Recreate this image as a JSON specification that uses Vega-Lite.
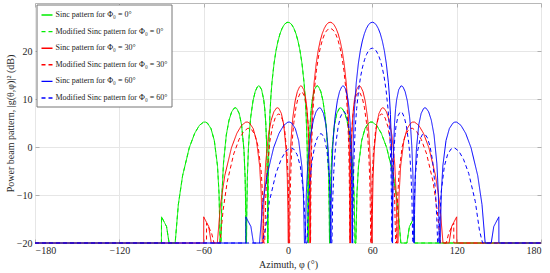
{
"$schema":"https://vega.github.io/schema/vega-lite/v6.json",
"width":506,"height":240,"autosize":"none",
"padding":{"left":35,"top":3,"right":9,"bottom":30},
"config":{"view":{"stroke":"#b8b8b8","strokeWidth":1},"font":"Liberation Serif"},
"datasets":{"d":[
{"s":"a","x":-180,"y":-20},{"s":"a","x":-90.05,"y":-20},{"s":"a","x":-90,"y":-14.55},{"s":"a","x":-86.39,"y":-16.58},{"s":"a","x":-84.59,"y":-20},{"s":"a","x":-80.28,"y":-20},{"s":"a","x":-78.02,"y":-11.99},{"s":"a","x":-74.98,"y":-5.96},{"s":"a","x":-70.23,"y":-0.15},{"s":"a","x":-66.39,"y":2.85},{"s":"a","x":-63.07,"y":4.5},{"s":"a","x":-60.09,"y":5.18},{"s":"a","x":-58.69,"y":5.19},{"s":"a","x":-57.35,"y":4.99},{"s":"a","x":-54.81,"y":3.85},{"s":"a","x":-52.42,"y":1.34},{"s":"a","x":-50.15,"y":-3.97},{"s":"a","x":-49.05,"y":-9.74},{"s":"a","x":-48.3,"y":-20},{"s":"a","x":-47.67,"y":-20},{"s":"a","x":-47.56,"y":-17.47},{"s":"a","x":-46.93,"y":-9.45},{"s":"a","x":-45.9,"y":-3.39},{"s":"a","x":-43.9,"y":2.5},{"s":"a","x":-41.96,"y":5.59},{"s":"a","x":-40.08,"y":7.32},{"s":"a","x":-38.25,"y":8.1},{"s":"a","x":-37.35,"y":8.17},{"s":"a","x":-36.47,"y":8.02},{"s":"a","x":-34.72,"y":6.98},{"s":"a","x":-33.01,"y":4.59},{"s":"a","x":-31.34,"y":-0.59},{"s":"a","x":-30.51,"y":-6.29},{"s":"a","x":-30.02,"y":-14.09},{"s":"a","x":-29.85,"y":-20},{"s":"a","x":-29.53,"y":-20},{"s":"a","x":-29.36,"y":-13.92},{"s":"a","x":-28.88,"y":-5.86},{"s":"a","x":-28.07,"y":0.28},{"s":"a","x":-27.27,"y":3.85},{"s":"a","x":-26.47,"y":6.34},{"s":"a","x":-24.9,"y":9.61},{"s":"a","x":-23.34,"y":11.54},{"s":"a","x":-21.81,"y":12.53},{"s":"a","x":-21.04,"y":12.72},{"s":"a","x":-20.29,"y":12.7},{"s":"a","x":-18.78,"y":11.94},{"s":"a","x":-17.29,"y":9.86},{"s":"a","x":-16.55,"y":7.98},{"s":"a","x":-15.81,"y":5.03},{"s":"a","x":-15.07,"y":-0.48},{"s":"a","x":-14.63,"y":-8.16},{"s":"a","x":-14.41,"y":-20},{"s":"a","x":-14.27,"y":-20},{"s":"a","x":-14.05,"y":-7.81},{"s":"a","x":-13.61,"y":0.39},{"s":"a","x":-12.88,"y":6.77},{"s":"a","x":-12.15,"y":10.61},{"s":"a","x":-11.43,"y":13.38},{"s":"a","x":-9.98,"y":17.31},{"s":"a","x":-8.55,"y":20.06},{"s":"a","x":-7.11,"y":22.08},{"s":"a","x":-5.69,"y":23.58},{"s":"a","x":-4.26,"y":24.67},{"s":"a","x":-2.84,"y":25.42},{"s":"a","x":-1.42,"y":25.86},
{"s":"a","x":0,"y":26},
{"s":"a","x":1.42,"y":25.86},{"s":"a","x":2.84,"y":25.42},{"s":"a","x":4.26,"y":24.67},{"s":"a","x":5.69,"y":23.58},{"s":"a","x":7.11,"y":22.08},{"s":"a","x":8.55,"y":20.06},{"s":"a","x":9.98,"y":17.31},{"s":"a","x":11.43,"y":13.38},{"s":"a","x":12.15,"y":10.61},{"s":"a","x":12.88,"y":6.77},{"s":"a","x":13.61,"y":0.39},{"s":"a","x":14.05,"y":-7.81},{"s":"a","x":14.27,"y":-20},{"s":"a","x":14.41,"y":-20},{"s":"a","x":14.63,"y":-8.16},{"s":"a","x":15.07,"y":-0.48},{"s":"a","x":15.81,"y":5.03},{"s":"a","x":16.55,"y":7.98},{"s":"a","x":17.29,"y":9.86},{"s":"a","x":18.78,"y":11.94},{"s":"a","x":20.29,"y":12.7},{"s":"a","x":21.04,"y":12.72},{"s":"a","x":21.81,"y":12.53},{"s":"a","x":23.34,"y":11.54},{"s":"a","x":24.9,"y":9.61},{"s":"a","x":26.47,"y":6.34},{"s":"a","x":27.27,"y":3.85},{"s":"a","x":28.07,"y":0.28},{"s":"a","x":28.88,"y":-5.86},{"s":"a","x":29.36,"y":-13.92},{"s":"a","x":29.53,"y":-20},{"s":"a","x":29.85,"y":-20},{"s":"a","x":30.02,"y":-14.09},{"s":"a","x":30.51,"y":-6.29},{"s":"a","x":31.34,"y":-0.59},{"s":"a","x":33.01,"y":4.59},{"s":"a","x":34.72,"y":6.98},{"s":"a","x":36.47,"y":8.02},{"s":"a","x":37.35,"y":8.17},{"s":"a","x":38.25,"y":8.1},{"s":"a","x":40.08,"y":7.32},{"s":"a","x":41.96,"y":5.59},{"s":"a","x":43.9,"y":2.5},{"s":"a","x":45.9,"y":-3.39},{"s":"a","x":46.93,"y":-9.45},{"s":"a","x":47.56,"y":-17.47},{"s":"a","x":47.67,"y":-20},{"s":"a","x":48.3,"y":-20},{"s":"a","x":49.05,"y":-9.74},{"s":"a","x":50.15,"y":-3.97},{"s":"a","x":52.42,"y":1.34},{"s":"a","x":54.81,"y":3.85},{"s":"a","x":57.35,"y":4.99},{"s":"a","x":58.69,"y":5.19},{"s":"a","x":60.09,"y":5.18},{"s":"a","x":63.07,"y":4.5},{"s":"a","x":66.39,"y":2.85},{"s":"a","x":70.23,"y":-0.15},{"s":"a","x":74.98,"y":-5.96},{"s":"a","x":78.02,"y":-11.99},{"s":"a","x":80.28,"y":-20},{"s":"a","x":84.59,"y":-20},{"s":"a","x":86.39,"y":-16.58},{"s":"a","x":90,"y":-14.55},{"s":"a","x":90.05,"y":-20},{"s":"a","x":180,"y":-20},
{"s":"b","x":-180,"y":-20},{"s":"b","x":-90.05,"y":-20},{"s":"b","x":-90,"y":-14.55},{"s":"b","x":-86.39,"y":-16.58},{"s":"b","x":-84.59,"y":-20},{"s":"b","x":-80.28,"y":-20},{"s":"b","x":-78.02,"y":-11.99},{"s":"b","x":-74.98,"y":-5.96},{"s":"b","x":-70.23,"y":-0.15},{"s":"b","x":-66.39,"y":2.85},{"s":"b","x":-63.07,"y":4.5},{"s":"b","x":-60.09,"y":5.18},{"s":"b","x":-58.69,"y":5.19},{"s":"b","x":-57.35,"y":4.99},{"s":"b","x":-54.81,"y":3.85},{"s":"b","x":-52.42,"y":1.34},{"s":"b","x":-50.15,"y":-3.97},{"s":"b","x":-49.05,"y":-9.74},{"s":"b","x":-48.3,"y":-20},{"s":"b","x":-47.67,"y":-20},{"s":"b","x":-47.56,"y":-17.47},{"s":"b","x":-46.93,"y":-9.45},{"s":"b","x":-45.9,"y":-3.39},{"s":"b","x":-43.9,"y":2.5},{"s":"b","x":-41.96,"y":5.59},{"s":"b","x":-40.08,"y":7.32},{"s":"b","x":-38.25,"y":8.1},{"s":"b","x":-37.35,"y":8.17},{"s":"b","x":-36.47,"y":8.02},{"s":"b","x":-34.72,"y":6.98},{"s":"b","x":-33.01,"y":4.59},{"s":"b","x":-31.34,"y":-0.59},{"s":"b","x":-30.51,"y":-6.29},{"s":"b","x":-30.02,"y":-14.09},{"s":"b","x":-29.85,"y":-20},{"s":"b","x":-29.53,"y":-20},{"s":"b","x":-29.36,"y":-13.92},{"s":"b","x":-28.88,"y":-5.86},{"s":"b","x":-28.07,"y":0.28},{"s":"b","x":-27.27,"y":3.85},{"s":"b","x":-26.47,"y":6.34},{"s":"b","x":-24.9,"y":9.61},{"s":"b","x":-23.34,"y":11.54},{"s":"b","x":-21.81,"y":12.53},{"s":"b","x":-21.04,"y":12.72},{"s":"b","x":-20.29,"y":12.7},{"s":"b","x":-18.78,"y":11.94},{"s":"b","x":-17.29,"y":9.86},{"s":"b","x":-16.55,"y":7.98},{"s":"b","x":-15.81,"y":5.03},{"s":"b","x":-15.07,"y":-0.48},{"s":"b","x":-14.63,"y":-8.16},{"s":"b","x":-14.41,"y":-20},{"s":"b","x":-14.27,"y":-20},{"s":"b","x":-14.05,"y":-7.81},{"s":"b","x":-13.61,"y":0.39},{"s":"b","x":-12.88,"y":6.77},{"s":"b","x":-12.15,"y":10.61},{"s":"b","x":-11.43,"y":13.38},{"s":"b","x":-9.98,"y":17.31},{"s":"b","x":-8.55,"y":20.06},{"s":"b","x":-7.11,"y":22.08},{"s":"b","x":-5.69,"y":23.58},{"s":"b","x":-4.26,"y":24.67},{"s":"b","x":-2.84,"y":25.42},{"s":"b","x":-1.42,"y":25.86},
{"s":"b","x":0,"y":26},
{"s":"b","x":1.42,"y":25.86},{"s":"b","x":2.84,"y":25.42},{"s":"b","x":4.26,"y":24.67},{"s":"b","x":5.69,"y":23.58},{"s":"b","x":7.11,"y":22.08},{"s":"b","x":8.55,"y":20.06},{"s":"b","x":9.98,"y":17.31},{"s":"b","x":11.43,"y":13.38},{"s":"b","x":12.15,"y":10.61},{"s":"b","x":12.88,"y":6.77},{"s":"b","x":13.61,"y":0.39},{"s":"b","x":14.05,"y":-7.81},{"s":"b","x":14.27,"y":-20},{"s":"b","x":14.41,"y":-20},{"s":"b","x":14.63,"y":-8.16},{"s":"b","x":15.07,"y":-0.48},{"s":"b","x":15.81,"y":5.03},{"s":"b","x":16.55,"y":7.98},{"s":"b","x":17.29,"y":9.86},{"s":"b","x":18.78,"y":11.94},{"s":"b","x":20.29,"y":12.7},{"s":"b","x":21.04,"y":12.72},{"s":"b","x":21.81,"y":12.53},{"s":"b","x":23.34,"y":11.54},{"s":"b","x":24.9,"y":9.61},{"s":"b","x":26.47,"y":6.34},{"s":"b","x":27.27,"y":3.85},{"s":"b","x":28.07,"y":0.28},{"s":"b","x":28.88,"y":-5.86},{"s":"b","x":29.36,"y":-13.92},{"s":"b","x":29.53,"y":-20},{"s":"b","x":29.85,"y":-20},{"s":"b","x":30.02,"y":-14.09},{"s":"b","x":30.51,"y":-6.29},{"s":"b","x":31.34,"y":-0.59},{"s":"b","x":33.01,"y":4.59},{"s":"b","x":34.72,"y":6.98},{"s":"b","x":36.47,"y":8.02},{"s":"b","x":37.35,"y":8.17},{"s":"b","x":38.25,"y":8.1},{"s":"b","x":40.08,"y":7.32},{"s":"b","x":41.96,"y":5.59},{"s":"b","x":43.9,"y":2.5},{"s":"b","x":45.9,"y":-3.39},{"s":"b","x":46.93,"y":-9.45},{"s":"b","x":47.56,"y":-17.47},{"s":"b","x":47.67,"y":-20},{"s":"b","x":48.3,"y":-20},{"s":"b","x":49.05,"y":-9.74},{"s":"b","x":50.15,"y":-3.97},{"s":"b","x":52.42,"y":1.34},{"s":"b","x":54.81,"y":3.85},{"s":"b","x":57.35,"y":4.99},{"s":"b","x":58.69,"y":5.19},{"s":"b","x":60.09,"y":5.18},{"s":"b","x":63.07,"y":4.5},{"s":"b","x":66.39,"y":2.85},{"s":"b","x":70.23,"y":-0.15},{"s":"b","x":74.98,"y":-5.96},{"s":"b","x":78.02,"y":-11.99},{"s":"b","x":80.28,"y":-20},{"s":"b","x":84.59,"y":-20},{"s":"b","x":86.39,"y":-16.58},{"s":"b","x":90,"y":-14.55},{"s":"b","x":90.05,"y":-20},{"s":"b","x":180,"y":-20},
{"s":"c","x":-180,"y":-20},{"s":"c","x":-60.05,"y":-20},{"s":"c","x":-60,"y":-14.55},{"s":"c","x":-56.39,"y":-16.58},{"s":"c","x":-54.59,"y":-20},{"s":"c","x":-50.28,"y":-20},{"s":"c","x":-48.02,"y":-11.99},{"s":"c","x":-44.98,"y":-5.96},{"s":"c","x":-40.23,"y":-0.15},{"s":"c","x":-36.39,"y":2.85},{"s":"c","x":-33.07,"y":4.5},{"s":"c","x":-30.09,"y":5.18},{"s":"c","x":-28.69,"y":5.19},{"s":"c","x":-27.35,"y":4.99},{"s":"c","x":-24.81,"y":3.85},{"s":"c","x":-22.42,"y":1.34},{"s":"c","x":-20.15,"y":-3.97},{"s":"c","x":-19.05,"y":-9.74},{"s":"c","x":-18.3,"y":-20},{"s":"c","x":-17.67,"y":-20},{"s":"c","x":-17.56,"y":-17.47},{"s":"c","x":-16.93,"y":-9.45},{"s":"c","x":-15.9,"y":-3.39},{"s":"c","x":-13.9,"y":2.5},{"s":"c","x":-11.96,"y":5.59},{"s":"c","x":-10.08,"y":7.32},{"s":"c","x":-8.25,"y":8.1},{"s":"c","x":-7.35,"y":8.17},{"s":"c","x":-6.47,"y":8.02},{"s":"c","x":-4.72,"y":6.98},{"s":"c","x":-3.01,"y":4.59},{"s":"c","x":-1.34,"y":-0.59},{"s":"c","x":-0.51,"y":-6.29},{"s":"c","x":-0.02,"y":-14.09},{"s":"c","x":0.15,"y":-20},{"s":"c","x":0.47,"y":-20},{"s":"c","x":0.64,"y":-13.92},{"s":"c","x":1.12,"y":-5.86},{"s":"c","x":1.93,"y":0.28},{"s":"c","x":2.73,"y":3.85},{"s":"c","x":3.53,"y":6.34},{"s":"c","x":5.1,"y":9.61},{"s":"c","x":6.66,"y":11.54},{"s":"c","x":8.19,"y":12.53},{"s":"c","x":8.96,"y":12.72},{"s":"c","x":9.71,"y":12.7},{"s":"c","x":11.22,"y":11.94},{"s":"c","x":12.71,"y":9.86},{"s":"c","x":13.45,"y":7.98},{"s":"c","x":14.19,"y":5.03},{"s":"c","x":14.93,"y":-0.48},{"s":"c","x":15.37,"y":-8.16},{"s":"c","x":15.59,"y":-20},{"s":"c","x":15.73,"y":-20},{"s":"c","x":15.95,"y":-7.81},{"s":"c","x":16.39,"y":0.39},{"s":"c","x":17.12,"y":6.77},{"s":"c","x":17.85,"y":10.61},{"s":"c","x":18.57,"y":13.38},{"s":"c","x":20.02,"y":17.31},{"s":"c","x":21.45,"y":20.06},{"s":"c","x":22.89,"y":22.08},{"s":"c","x":24.31,"y":23.58},{"s":"c","x":25.74,"y":24.67},{"s":"c","x":27.16,"y":25.42},{"s":"c","x":28.58,"y":25.86},
{"s":"c","x":30,"y":26},
{"s":"c","x":31.42,"y":25.86},{"s":"c","x":32.84,"y":25.42},{"s":"c","x":34.26,"y":24.67},{"s":"c","x":35.69,"y":23.58},{"s":"c","x":37.11,"y":22.08},{"s":"c","x":38.55,"y":20.06},{"s":"c","x":39.98,"y":17.31},{"s":"c","x":41.43,"y":13.38},{"s":"c","x":42.15,"y":10.61},{"s":"c","x":42.88,"y":6.77},{"s":"c","x":43.61,"y":0.39},{"s":"c","x":44.05,"y":-7.81},{"s":"c","x":44.27,"y":-20},{"s":"c","x":44.41,"y":-20},{"s":"c","x":44.63,"y":-8.16},{"s":"c","x":45.07,"y":-0.48},{"s":"c","x":45.81,"y":5.03},{"s":"c","x":46.55,"y":7.98},{"s":"c","x":47.29,"y":9.86},{"s":"c","x":48.78,"y":11.94},{"s":"c","x":50.29,"y":12.7},{"s":"c","x":51.04,"y":12.72},{"s":"c","x":51.81,"y":12.53},{"s":"c","x":53.34,"y":11.54},{"s":"c","x":54.9,"y":9.61},{"s":"c","x":56.47,"y":6.34},{"s":"c","x":57.27,"y":3.85},{"s":"c","x":58.07,"y":0.28},{"s":"c","x":58.88,"y":-5.86},{"s":"c","x":59.36,"y":-13.92},{"s":"c","x":59.53,"y":-20},{"s":"c","x":59.85,"y":-20},{"s":"c","x":60.02,"y":-14.09},{"s":"c","x":60.51,"y":-6.29},{"s":"c","x":61.34,"y":-0.59},{"s":"c","x":63.01,"y":4.59},{"s":"c","x":64.72,"y":6.98},{"s":"c","x":66.47,"y":8.02},{"s":"c","x":67.35,"y":8.17},{"s":"c","x":68.25,"y":8.1},{"s":"c","x":70.08,"y":7.32},{"s":"c","x":71.96,"y":5.59},{"s":"c","x":73.9,"y":2.5},{"s":"c","x":75.9,"y":-3.39},{"s":"c","x":76.93,"y":-9.45},{"s":"c","x":77.56,"y":-17.47},{"s":"c","x":77.67,"y":-20},{"s":"c","x":78.3,"y":-20},{"s":"c","x":79.05,"y":-9.74},{"s":"c","x":80.15,"y":-3.97},{"s":"c","x":82.42,"y":1.34},{"s":"c","x":84.81,"y":3.85},{"s":"c","x":87.35,"y":4.99},{"s":"c","x":88.69,"y":5.19},{"s":"c","x":90.09,"y":5.18},{"s":"c","x":93.07,"y":4.5},{"s":"c","x":96.39,"y":2.85},{"s":"c","x":100.23,"y":-0.15},{"s":"c","x":104.98,"y":-5.96},{"s":"c","x":108.02,"y":-11.99},{"s":"c","x":110.28,"y":-20},{"s":"c","x":114.59,"y":-20},{"s":"c","x":116.39,"y":-16.58},{"s":"c","x":120,"y":-14.55},{"s":"c","x":120.05,"y":-20},{"s":"c","x":180,"y":-20},
{"s":"d","x":-180,"y":-20},{"s":"d","x":-57.98,"y":-20},{"s":"d","x":-57.93,"y":-15.85},{"s":"d","x":-54.41,"y":-17.88},{"s":"d","x":-52.64,"y":-20},{"s":"d","x":-48.43,"y":-20},{"s":"d","x":-46.22,"y":-13.29},{"s":"d","x":-43.25,"y":-7.26},{"s":"d","x":-38.62,"y":-1.45},{"s":"d","x":-34.86,"y":1.55},{"s":"d","x":-31.62,"y":3.2},{"s":"d","x":-28.7,"y":3.88},{"s":"d","x":-27.34,"y":3.89},{"s":"d","x":-26.03,"y":3.69},{"s":"d","x":-23.55,"y":2.55},{"s":"d","x":-21.21,"y":0.04},{"s":"d","x":-19,"y":-5.27},{"s":"d","x":-17.93,"y":-11.04},{"s":"d","x":-17.19,"y":-20},{"s":"d","x":-16.57,"y":-20},{"s":"d","x":-16.47,"y":-18.77},{"s":"d","x":-15.86,"y":-10.75},{"s":"d","x":-14.85,"y":-4.69},{"s":"d","x":-12.89,"y":1.2},{"s":"d","x":-11,"y":4.29},{"s":"d","x":-9.16,"y":6.02},{"s":"d","x":-7.37,"y":6.8},{"s":"d","x":-6.5,"y":6.87},{"s":"d","x":-5.63,"y":6.72},{"s":"d","x":-3.92,"y":5.68},{"s":"d","x":-2.25,"y":3.29},{"s":"d","x":-0.62,"y":-1.89},{"s":"d","x":0.19,"y":-7.59},{"s":"d","x":0.67,"y":-15.39},{"s":"d","x":0.83,"y":-20},{"s":"d","x":1.15,"y":-20},{"s":"d","x":1.31,"y":-15.22},{"s":"d","x":1.79,"y":-7.16},{"s":"d","x":2.58,"y":-1.02},{"s":"d","x":3.36,"y":2.55},{"s":"d","x":4.14,"y":5.04},{"s":"d","x":5.68,"y":8.31},{"s":"d","x":7.19,"y":10.24},{"s":"d","x":8.7,"y":11.23},{"s":"d","x":9.44,"y":11.42},{"s":"d","x":10.18,"y":11.4},{"s":"d","x":11.65,"y":10.64},{"s":"d","x":13.11,"y":8.56},{"s":"d","x":13.83,"y":6.68},{"s":"d","x":14.56,"y":3.73},{"s":"d","x":15.27,"y":-1.78},{"s":"d","x":15.71,"y":-9.46},{"s":"d","x":15.92,"y":-20},{"s":"d","x":16.06,"y":-20},{"s":"d","x":16.28,"y":-9.11},{"s":"d","x":16.71,"y":-0.91},{"s":"d","x":17.42,"y":5.47},{"s":"d","x":18.13,"y":9.31},{"s":"d","x":18.84,"y":12.08},{"s":"d","x":20.25,"y":16.01},{"s":"d","x":21.65,"y":18.76},{"s":"d","x":23.05,"y":20.78},{"s":"d","x":24.45,"y":22.28},{"s":"d","x":25.84,"y":23.37},{"s":"d","x":27.23,"y":24.12},{"s":"d","x":28.61,"y":24.56},
{"s":"d","x":30,"y":24.7},
{"s":"d","x":31.39,"y":24.56},{"s":"d","x":32.77,"y":24.12},{"s":"d","x":34.16,"y":23.37},{"s":"d","x":35.55,"y":22.28},{"s":"d","x":36.95,"y":20.78},{"s":"d","x":38.35,"y":18.76},{"s":"d","x":39.75,"y":16.01},{"s":"d","x":41.16,"y":12.08},{"s":"d","x":41.87,"y":9.31},{"s":"d","x":42.58,"y":5.47},{"s":"d","x":43.29,"y":-0.91},{"s":"d","x":43.72,"y":-9.11},{"s":"d","x":43.94,"y":-20},{"s":"d","x":44.08,"y":-20},{"s":"d","x":44.29,"y":-9.46},{"s":"d","x":44.73,"y":-1.78},{"s":"d","x":45.44,"y":3.73},{"s":"d","x":46.17,"y":6.68},{"s":"d","x":46.89,"y":8.56},{"s":"d","x":48.35,"y":10.64},{"s":"d","x":49.82,"y":11.4},{"s":"d","x":50.56,"y":11.42},{"s":"d","x":51.3,"y":11.23},{"s":"d","x":52.81,"y":10.24},{"s":"d","x":54.32,"y":8.31},{"s":"d","x":55.86,"y":5.04},{"s":"d","x":56.64,"y":2.55},{"s":"d","x":57.42,"y":-1.02},{"s":"d","x":58.21,"y":-7.16},{"s":"d","x":58.69,"y":-15.22},{"s":"d","x":58.85,"y":-20},{"s":"d","x":59.17,"y":-20},{"s":"d","x":59.33,"y":-15.39},{"s":"d","x":59.81,"y":-7.59},{"s":"d","x":60.62,"y":-1.89},{"s":"d","x":62.25,"y":3.29},{"s":"d","x":63.92,"y":5.68},{"s":"d","x":65.63,"y":6.72},{"s":"d","x":66.5,"y":6.87},{"s":"d","x":67.37,"y":6.8},{"s":"d","x":69.16,"y":6.02},{"s":"d","x":71,"y":4.29},{"s":"d","x":72.89,"y":1.2},{"s":"d","x":74.85,"y":-4.69},{"s":"d","x":75.86,"y":-10.75},{"s":"d","x":76.47,"y":-18.77},{"s":"d","x":76.57,"y":-20},{"s":"d","x":77.19,"y":-20},{"s":"d","x":77.93,"y":-11.04},{"s":"d","x":79,"y":-5.27},{"s":"d","x":81.21,"y":0.04},{"s":"d","x":83.55,"y":2.55},{"s":"d","x":86.03,"y":3.69},{"s":"d","x":87.34,"y":3.89},{"s":"d","x":88.7,"y":3.88},{"s":"d","x":91.62,"y":3.2},{"s":"d","x":94.86,"y":1.55},{"s":"d","x":98.62,"y":-1.45},{"s":"d","x":103.25,"y":-7.26},{"s":"d","x":106.22,"y":-13.29},{"s":"d","x":108.43,"y":-20},{"s":"d","x":112.64,"y":-20},{"s":"d","x":114.41,"y":-17.88},{"s":"d","x":117.93,"y":-15.85},{"s":"d","x":117.98,"y":-20},{"s":"d","x":180,"y":-20},
{"s":"e","x":-180,"y":-20},{"s":"e","x":-30.05,"y":-20},{"s":"e","x":-30,"y":-14.55},{"s":"e","x":-26.39,"y":-16.58},{"s":"e","x":-24.59,"y":-20},{"s":"e","x":-20.28,"y":-20},{"s":"e","x":-18.02,"y":-11.99},{"s":"e","x":-14.98,"y":-5.96},{"s":"e","x":-10.23,"y":-0.15},{"s":"e","x":-6.39,"y":2.85},{"s":"e","x":-3.07,"y":4.5},{"s":"e","x":-0.09,"y":5.18},{"s":"e","x":1.31,"y":5.19},{"s":"e","x":2.65,"y":4.99},{"s":"e","x":5.19,"y":3.85},{"s":"e","x":7.58,"y":1.34},{"s":"e","x":9.85,"y":-3.97},{"s":"e","x":10.95,"y":-9.74},{"s":"e","x":11.7,"y":-20},{"s":"e","x":12.33,"y":-20},{"s":"e","x":12.44,"y":-17.47},{"s":"e","x":13.07,"y":-9.45},{"s":"e","x":14.1,"y":-3.39},{"s":"e","x":16.1,"y":2.5},{"s":"e","x":18.04,"y":5.59},{"s":"e","x":19.92,"y":7.32},{"s":"e","x":21.75,"y":8.1},{"s":"e","x":22.65,"y":8.17},{"s":"e","x":23.53,"y":8.02},{"s":"e","x":25.28,"y":6.98},{"s":"e","x":26.99,"y":4.59},{"s":"e","x":28.66,"y":-0.59},{"s":"e","x":29.49,"y":-6.29},{"s":"e","x":29.98,"y":-14.09},{"s":"e","x":30.15,"y":-20},{"s":"e","x":30.47,"y":-20},{"s":"e","x":30.64,"y":-13.92},{"s":"e","x":31.12,"y":-5.86},{"s":"e","x":31.93,"y":0.28},{"s":"e","x":32.73,"y":3.85},{"s":"e","x":33.53,"y":6.34},{"s":"e","x":35.1,"y":9.61},{"s":"e","x":36.66,"y":11.54},{"s":"e","x":38.19,"y":12.53},{"s":"e","x":38.96,"y":12.72},{"s":"e","x":39.71,"y":12.7},{"s":"e","x":41.22,"y":11.94},{"s":"e","x":42.71,"y":9.86},{"s":"e","x":43.45,"y":7.98},{"s":"e","x":44.19,"y":5.03},{"s":"e","x":44.93,"y":-0.48},{"s":"e","x":45.37,"y":-8.16},{"s":"e","x":45.59,"y":-20},{"s":"e","x":45.73,"y":-20},{"s":"e","x":45.95,"y":-7.81},{"s":"e","x":46.39,"y":0.39},{"s":"e","x":47.12,"y":6.77},{"s":"e","x":47.85,"y":10.61},{"s":"e","x":48.57,"y":13.38},{"s":"e","x":50.02,"y":17.31},{"s":"e","x":51.45,"y":20.06},{"s":"e","x":52.89,"y":22.08},{"s":"e","x":54.31,"y":23.58},{"s":"e","x":55.74,"y":24.67},{"s":"e","x":57.16,"y":25.42},{"s":"e","x":58.58,"y":25.86},
{"s":"e","x":60,"y":26},
{"s":"e","x":61.42,"y":25.86},{"s":"e","x":62.84,"y":25.42},{"s":"e","x":64.26,"y":24.67},{"s":"e","x":65.69,"y":23.58},{"s":"e","x":67.11,"y":22.08},{"s":"e","x":68.55,"y":20.06},{"s":"e","x":69.98,"y":17.31},{"s":"e","x":71.43,"y":13.38},{"s":"e","x":72.15,"y":10.61},{"s":"e","x":72.88,"y":6.77},{"s":"e","x":73.61,"y":0.39},{"s":"e","x":74.05,"y":-7.81},{"s":"e","x":74.27,"y":-20},{"s":"e","x":74.41,"y":-20},{"s":"e","x":74.63,"y":-8.16},{"s":"e","x":75.07,"y":-0.48},{"s":"e","x":75.81,"y":5.03},{"s":"e","x":76.55,"y":7.98},{"s":"e","x":77.29,"y":9.86},{"s":"e","x":78.78,"y":11.94},{"s":"e","x":80.29,"y":12.7},{"s":"e","x":81.04,"y":12.72},{"s":"e","x":81.81,"y":12.53},{"s":"e","x":83.34,"y":11.54},{"s":"e","x":84.9,"y":9.61},{"s":"e","x":86.47,"y":6.34},{"s":"e","x":87.27,"y":3.85},{"s":"e","x":88.07,"y":0.28},{"s":"e","x":88.88,"y":-5.86},{"s":"e","x":89.36,"y":-13.92},{"s":"e","x":89.53,"y":-20},{"s":"e","x":89.85,"y":-20},{"s":"e","x":90.02,"y":-14.09},{"s":"e","x":90.51,"y":-6.29},{"s":"e","x":91.34,"y":-0.59},{"s":"e","x":93.01,"y":4.59},{"s":"e","x":94.72,"y":6.98},{"s":"e","x":96.47,"y":8.02},{"s":"e","x":97.35,"y":8.17},{"s":"e","x":98.25,"y":8.1},{"s":"e","x":100.08,"y":7.32},{"s":"e","x":101.96,"y":5.59},{"s":"e","x":103.9,"y":2.5},{"s":"e","x":105.9,"y":-3.39},{"s":"e","x":106.93,"y":-9.45},{"s":"e","x":107.56,"y":-17.47},{"s":"e","x":107.67,"y":-20},{"s":"e","x":108.3,"y":-20},{"s":"e","x":109.05,"y":-9.74},{"s":"e","x":110.15,"y":-3.97},{"s":"e","x":112.42,"y":1.34},{"s":"e","x":114.81,"y":3.85},{"s":"e","x":117.35,"y":4.99},{"s":"e","x":118.69,"y":5.19},{"s":"e","x":120.09,"y":5.18},{"s":"e","x":123.07,"y":4.5},{"s":"e","x":126.39,"y":2.85},{"s":"e","x":130.23,"y":-0.15},{"s":"e","x":134.98,"y":-5.96},{"s":"e","x":138.02,"y":-11.99},{"s":"e","x":140.28,"y":-20},{"s":"e","x":144.59,"y":-20},{"s":"e","x":146.39,"y":-16.58},{"s":"e","x":150,"y":-14.55},{"s":"e","x":150.05,"y":-20},{"s":"e","x":180,"y":-20},
{"s":"f","x":-180,"y":-20},{"s":"f","x":-18.43,"y":-20},{"s":"f","x":-16.22,"y":-17.39},{"s":"f","x":-13.25,"y":-11.36},{"s":"f","x":-8.62,"y":-5.55},{"s":"f","x":-4.86,"y":-2.55},{"s":"f","x":-1.62,"y":-0.9},{"s":"f","x":1.3,"y":-0.22},{"s":"f","x":2.66,"y":-0.21},{"s":"f","x":3.97,"y":-0.41},{"s":"f","x":6.45,"y":-1.55},{"s":"f","x":8.79,"y":-4.06},{"s":"f","x":11,"y":-9.37},{"s":"f","x":12.07,"y":-15.14},{"s":"f","x":12.81,"y":-20},{"s":"f","x":13.43,"y":-20},{"s":"f","x":13.53,"y":-20},{"s":"f","x":14.14,"y":-14.85},{"s":"f","x":15.15,"y":-8.79},{"s":"f","x":17.11,"y":-2.9},{"s":"f","x":19,"y":0.19},{"s":"f","x":20.84,"y":1.92},{"s":"f","x":22.63,"y":2.7},{"s":"f","x":23.5,"y":2.77},{"s":"f","x":24.37,"y":2.62},{"s":"f","x":26.08,"y":1.58},{"s":"f","x":27.75,"y":-0.81},{"s":"f","x":29.38,"y":-5.99},{"s":"f","x":30.19,"y":-11.69},{"s":"f","x":30.67,"y":-19.49},{"s":"f","x":30.83,"y":-20},{"s":"f","x":31.15,"y":-20},{"s":"f","x":31.31,"y":-19.32},{"s":"f","x":31.79,"y":-11.26},{"s":"f","x":32.58,"y":-5.12},{"s":"f","x":33.36,"y":-1.55},{"s":"f","x":34.14,"y":0.94},{"s":"f","x":35.68,"y":4.21},{"s":"f","x":37.19,"y":6.14},{"s":"f","x":38.7,"y":7.13},{"s":"f","x":39.44,"y":7.32},{"s":"f","x":40.18,"y":7.3},{"s":"f","x":41.65,"y":6.54},{"s":"f","x":43.11,"y":4.46},{"s":"f","x":43.83,"y":2.58},{"s":"f","x":44.56,"y":-0.37},{"s":"f","x":45.27,"y":-5.88},{"s":"f","x":45.71,"y":-13.56},{"s":"f","x":45.92,"y":-20},{"s":"f","x":46.06,"y":-20},{"s":"f","x":46.28,"y":-13.21},{"s":"f","x":46.71,"y":-5.01},{"s":"f","x":47.42,"y":1.37},{"s":"f","x":48.13,"y":5.21},{"s":"f","x":48.84,"y":7.98},{"s":"f","x":50.25,"y":11.91},{"s":"f","x":51.65,"y":14.66},{"s":"f","x":53.05,"y":16.68},{"s":"f","x":54.45,"y":18.18},{"s":"f","x":55.84,"y":19.27},{"s":"f","x":57.23,"y":20.02},{"s":"f","x":58.61,"y":20.46},
{"s":"f","x":60,"y":20.6},
{"s":"f","x":61.39,"y":20.46},{"s":"f","x":62.77,"y":20.02},{"s":"f","x":64.16,"y":19.27},{"s":"f","x":65.55,"y":18.18},{"s":"f","x":66.95,"y":16.68},{"s":"f","x":68.35,"y":14.66},{"s":"f","x":69.75,"y":11.91},{"s":"f","x":71.16,"y":7.98},{"s":"f","x":71.87,"y":5.21},{"s":"f","x":72.58,"y":1.37},{"s":"f","x":73.29,"y":-5.01},{"s":"f","x":73.72,"y":-13.21},{"s":"f","x":73.94,"y":-20},{"s":"f","x":74.08,"y":-20},{"s":"f","x":74.29,"y":-13.56},{"s":"f","x":74.73,"y":-5.88},{"s":"f","x":75.44,"y":-0.37},{"s":"f","x":76.17,"y":2.58},{"s":"f","x":76.89,"y":4.46},{"s":"f","x":78.35,"y":6.54},{"s":"f","x":79.82,"y":7.3},{"s":"f","x":80.56,"y":7.32},{"s":"f","x":81.3,"y":7.13},{"s":"f","x":82.81,"y":6.14},{"s":"f","x":84.32,"y":4.21},{"s":"f","x":85.86,"y":0.94},{"s":"f","x":86.64,"y":-1.55},{"s":"f","x":87.42,"y":-5.12},{"s":"f","x":88.21,"y":-11.26},{"s":"f","x":88.69,"y":-19.32},{"s":"f","x":88.85,"y":-20},{"s":"f","x":89.17,"y":-20},{"s":"f","x":89.33,"y":-19.49},{"s":"f","x":89.81,"y":-11.69},{"s":"f","x":90.62,"y":-5.99},{"s":"f","x":92.25,"y":-0.81},{"s":"f","x":93.92,"y":1.58},{"s":"f","x":95.63,"y":2.62},{"s":"f","x":96.5,"y":2.77},{"s":"f","x":97.37,"y":2.7},{"s":"f","x":99.16,"y":1.92},{"s":"f","x":101,"y":0.19},{"s":"f","x":102.89,"y":-2.9},{"s":"f","x":104.85,"y":-8.79},{"s":"f","x":105.86,"y":-14.85},{"s":"f","x":106.47,"y":-20},{"s":"f","x":106.57,"y":-20},{"s":"f","x":107.19,"y":-20},{"s":"f","x":107.93,"y":-15.14},{"s":"f","x":109,"y":-9.37},{"s":"f","x":111.21,"y":-4.06},{"s":"f","x":113.55,"y":-1.55},{"s":"f","x":116.03,"y":-0.41},{"s":"f","x":117.34,"y":-0.21},{"s":"f","x":118.7,"y":-0.22},{"s":"f","x":121.62,"y":-0.9},{"s":"f","x":124.86,"y":-2.55},{"s":"f","x":128.62,"y":-5.55},{"s":"f","x":133.25,"y":-11.36},{"s":"f","x":136.22,"y":-17.39},{"s":"f","x":138.43,"y":-20},{"s":"f","x":180,"y":-20}
]},
"data":{"name":"d"},
"layer":[
{"mark":{"type":"line","strokeWidth":1,"clip":false},
"encoding":{
"x":{"field":"x","type":"quantitative","scale":{"domain":[-180,180],"nice":false,"zero":false},
"axis":{"orient":"bottom","values":[-180,-120,-60,0,60,120,180],"grid":true,"gridColor":"#e6e6e6","domain":false,"tickSize":-4,"tickColor":"#b0b0b0","labelPadding":6,"labelFont":"Liberation Serif","labelFontSize":10,"labelColor":"#262626","title":"Azimuth, φ (°)","titleFont":"Liberation Serif","titleFontSize":10,"titleFontWeight":"normal","titleColor":"#262626","titleX":253,"titleY":16,"titleBaseline":"top"}},
"y":{"field":"y","type":"quantitative","scale":{"domain":[-20,30],"nice":false,"zero":false},
"axis":{"orient":"left","values":[-20,-10,0,10,20],"grid":true,"gridColor":"#e6e6e6","domain":false,"tickSize":-4,"tickColor":"#b0b0b0","labelPadding":7,"labelFont":"Liberation Serif","labelFontSize":10,"labelColor":"#262626","title":"Power beam pattern, |g(θ,φ)|² (dB)","titleFont":"Liberation Serif","titleFontSize":10,"titleFontWeight":"normal","titleColor":"#262626","titleX":-25,"titleY":120,"titleBaseline":"middle","titleAngle":-90}},
"color":{"field":"s","type":"nominal","scale":{"domain":["a","b","c","d","e","f"],"range":["#00ee00","#00ee00","#ff0000","#ff0000","#0000ff","#0000ff"]},
"legend":{"title":null,"orient":"none","legendX":1.5,"legendY":1.5,"padding":4,"symbolSize":121,"symbolStrokeWidth":1.4,"rowPadding":5.6,"labelOffset":2,"labelFont":"Liberation Serif","labelFontSize":8,"labelColor":"#222","strokeColor":"#777","fillColor":"#ffffff","labelExpr":"datum.label=='a'?'Sinc pattern for Φ₀ = 0°':datum.label=='b'?'Modified Sinc pattern for Φ₀ = 0°':datum.label=='c'?'Sinc pattern for Φ₀ = 30°':datum.label=='d'?'Modified Sinc pattern for Φ₀ = 30°':datum.label=='e'?'Sinc pattern for Φ₀ = 60°':'Modified Sinc pattern for Φ₀ = 60°'"}},
"strokeDash":{"field":"s","type":"nominal","scale":{"domain":["a","b","c","d","e","f"],"range":[[1,0],[4,3],[1,0],[4,3],[1,0],[4,3]]},
"legend":{"title":null,"orient":"none","legendX":1.5,"legendY":1.5,"padding":4,"symbolSize":121,"symbolStrokeWidth":1.4,"rowPadding":5.6,"labelOffset":2,"labelFont":"Liberation Serif","labelFontSize":8,"labelColor":"#222","strokeColor":"#777","fillColor":"#ffffff","labelExpr":"datum.label=='a'?'Sinc pattern for Φ₀ = 0°':datum.label=='b'?'Modified Sinc pattern for Φ₀ = 0°':datum.label=='c'?'Sinc pattern for Φ₀ = 30°':datum.label=='d'?'Modified Sinc pattern for Φ₀ = 30°':datum.label=='e'?'Sinc pattern for Φ₀ = 60°':'Modified Sinc pattern for Φ₀ = 60°'"}}
}},
{"mark":{"type":"point","opacity":0},
"encoding":{
"x":{"field":"x","type":"quantitative","scale":{"domain":[-180,180],"nice":false,"zero":false},
"axis":{"orient":"top","values":[-180,-120,-60,0,60,120,180],"grid":false,"domain":false,"labels":false,"tickSize":-4,"tickColor":"#b0b0b0","title":null}},
"y":{"field":"y","type":"quantitative","scale":{"domain":[-20,30],"nice":false,"zero":false},
"axis":{"orient":"right","values":[-20,-10,0,10,20],"grid":false,"domain":false,"labels":false,"tickSize":-4,"tickColor":"#b0b0b0","title":null}}
}}
],
"resolve":{"axis":{"x":"independent","y":"independent"}}
}
